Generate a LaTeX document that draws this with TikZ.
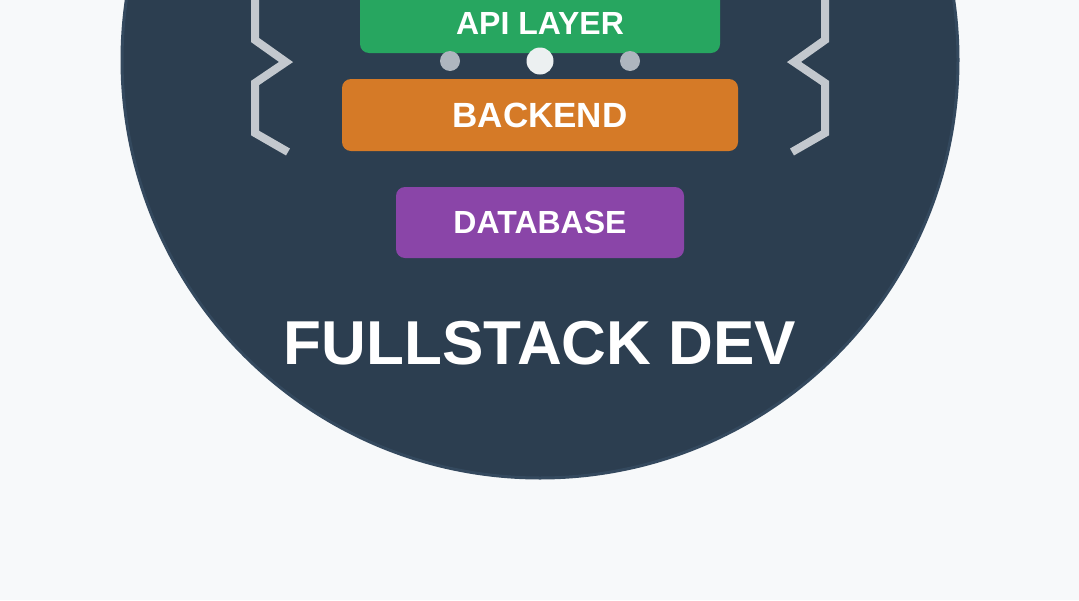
\documentclass[tikz,border=0pt]{standalone}
\usepackage{fontspec}
\setmainfont{Liberation Sans}
\definecolor{bg}{HTML}{F7F9FA}
\definecolor{navy}{HTML}{2C3E50}
\definecolor{navyb}{HTML}{34495E}
\definecolor{grn}{HTML}{27A660}
\definecolor{org}{HTML}{D57A27}
\definecolor{pur}{HTML}{8A45A8}
\definecolor{brc}{HTML}{C3C8CE}
\definecolor{dotg}{HTML}{AEB6BF}
\definecolor{dotw}{HTML}{ECF0F1}
\begin{document}
\begin{tikzpicture}[x=1pt,y=-1pt,
  layer/.style={rounded corners=9pt,inner sep=0pt,text=white,font=\bfseries},
  brace/.style={draw=brc,line width=8pt,line join=miter}]
\useasboundingbox (0,0) rectangle (1079,600);
\clip (0,0) rectangle (1079,600);
\fill[bg] (0,0) rectangle (1079,600);
\node[circle,fill=navy,draw=navyb,line width=3pt,minimum size=836pt,inner sep=0pt] (disc) at (540,60) {};
\draw[brace] (255,-5) -- (255,40) -- (286,62) -- (255,83) -- (255,133) -- (288,152);
\draw[brace] (825,-5) -- (825,40) -- (794,62) -- (825,83) -- (825,133) -- (792,152);
\fill[grn,rounded corners=9pt] (360,-20) rectangle (720,53);
\node[text=white,font=\bfseries\fontsize{32}{32}\selectfont] (api) at (540,23) {API LAYER};
\node[layer,fill=org,minimum width=396pt,minimum height=72pt,font=\bfseries\fontsize{35}{35}\selectfont] (backend) at (540,115) {BACKEND};
\node[layer,fill=pur,minimum width=288pt,minimum height=71pt,font=\bfseries\fontsize{32}{32}\selectfont] (db) at (540,222.5) {DATABASE};
\node[circle,fill=dotg,minimum size=20pt,inner sep=0pt] (d1) at (450,61) {};
\node[circle,fill=dotw,minimum size=27pt,inner sep=0pt] (d2) at (540,61) {};
\node[circle,fill=dotg,minimum size=20pt,inner sep=0pt] (d3) at (630,61) {};
\node[text=white,font=\bfseries\fontsize{62}{62}\selectfont] (title) at (540,343) {FULLSTACK DEV};
\end{tikzpicture}
\end{document}
